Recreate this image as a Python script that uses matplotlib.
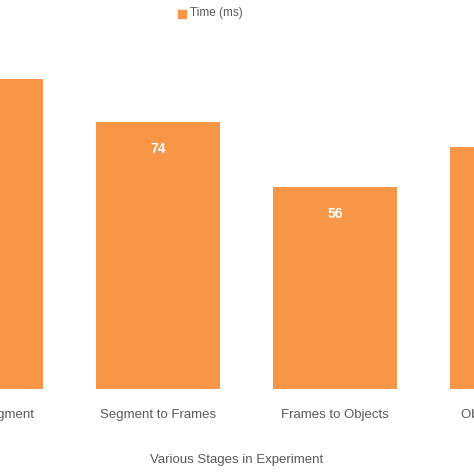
import matplotlib
matplotlib.use("Agg")
import matplotlib.pyplot as plt

categories = ["Video to Segment", "Segment to Frames", "Frames to Objects", "Objects to Output"]
times = [86, 74, 56, 67]
shown_labels = [False, True, True, False]

plt.rcParams['font.family'] = ['Liberation Sans', 'DejaVu Sans']
fig = plt.figure(figsize=(4.74, 4.74), dpi=100)
ax = fig.add_axes([0, 0, 1, 1])
color = "#F79646"
x = range(len(categories))
ax.bar(x, times, width=0.7, color=color)
ax.set_xlim(0.107, 2.785)
ax.set_ylim(-23.5, 107.8)
ax.axis("off")
for i, (c, v, s) in enumerate(zip(categories, times, shown_labels)):
    ax.text(i, -7.2, c, ha="center", va="center", fontsize=9.5, color="#595959", clip_on=True)
    if s:
        ax.text(i, v - 7.6, str(v), ha="center", va="center", fontsize=10, color="white",
                fontweight="bold", clip_on=True)
fig.text(0.5, 0.03, "Various Stages in Experiment", ha="center", va="center", fontsize=9.5, color="#595959")
fig.patches.append(plt.Rectangle((0.376, 0.963), 0.016, 0.016, transform=fig.transFigure, color=color))
fig.text(0.4, 0.972, "Time (ms)", ha="left", va="center", fontsize=8.5, color="#595959")
fig.savefig("out.png", dpi=100, facecolor="white")
